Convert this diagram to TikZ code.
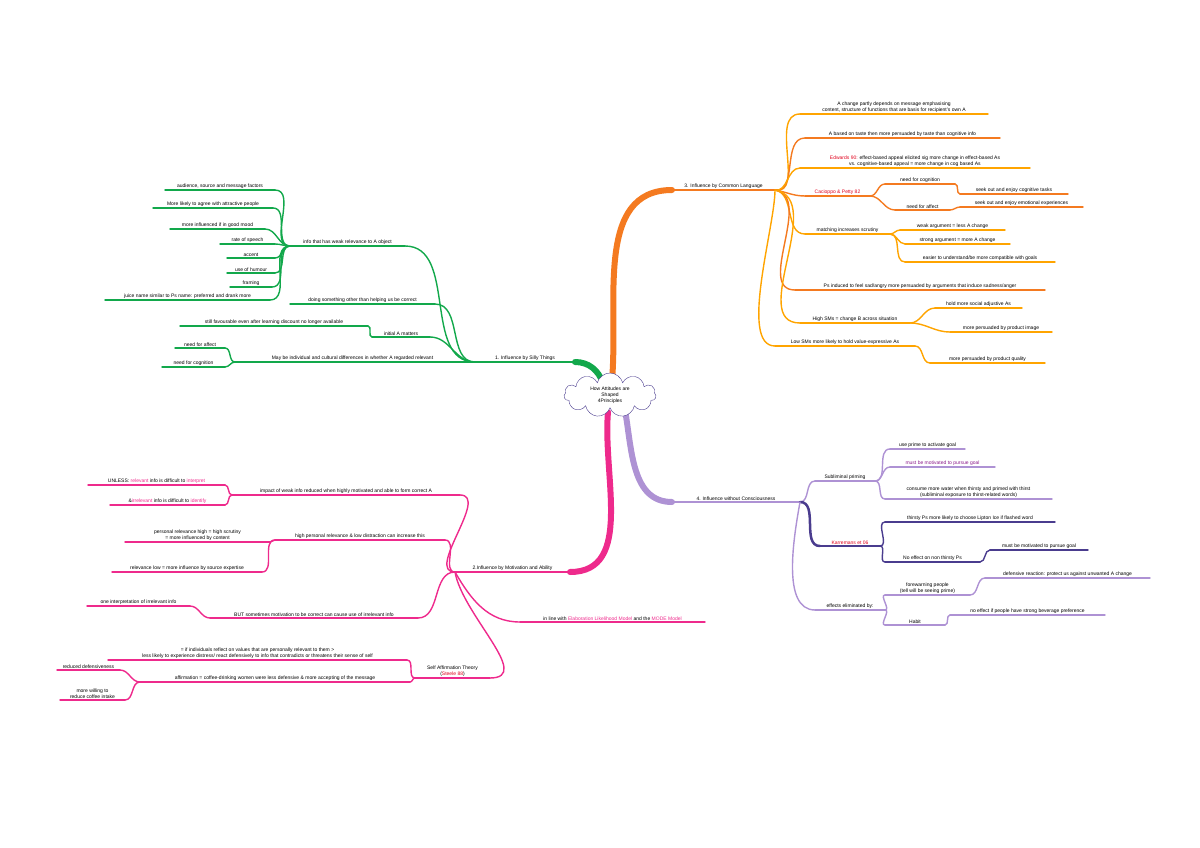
\documentclass[tikz,border=0pt]{standalone}
\usepackage{fontspec}
\setmainfont{Liberation Sans}
\usetikzlibrary{shapes.symbols}
\definecolor{cg}{HTML}{12A84B}
\definecolor{co}{HTML}{FFA400}
\definecolor{cdo}{HTML}{F47A20}
\definecolor{cp}{HTML}{EE2A8C}
\definecolor{cv}{HTML}{AE92D4}
\definecolor{cdv}{HTML}{4A3C8E}
\definecolor{cr}{HTML}{E0001B}
\definecolor{cpt}{HTML}{8B1A8B}
\tikzset{
 lbl/.style={inner sep=1pt,align=center,font=\fontsize{5}{6}\selectfont},
 ln/.style={line width=1.4pt,line cap=round},
 cn/.style={line width=1.4pt,line cap=round},
 trunk/.style={line width=6pt,line cap=round},
}
% name, x1, x2, y, colour, text
\newcommand\nd[6]{%
 \draw[ln,#5] (#2,#4) coordinate (#1L) -- (#3,#4) coordinate (#1R);
 \node[lbl,anchor=south] (#1) at ({(#2+#3)/2},#4) {#6};}
\newcommand\cl[3]{\draw[cn,#1] (#2L) to[out=180,in=0] (#3R);}
\newcommand\cR[3]{\draw[cn,#1] (#2R) to[out=0,in=180] (#3L);}
\newcommand\red[1]{\textcolor{cr}{#1}}
\newcommand\pk[1]{\textcolor{cp}{#1}}
\begin{document}
\begin{tikzpicture}[x=1pt,y=-1pt]
\useasboundingbox (0,0) rectangle (1200,848);
\coordinate (rc) at (610,395);

% ---- branch 1 green
\nd{b1}{475}{575}{362}{cg}{1. Influence by Silly Things}
\draw[trunk,cg] (603,383) to[out=110,in=0] (b1R);
\nd{g1}{290}{405}{246}{cg}{info that has weak relevance to A object}
\nd{g11}{165}{275}{190}{cg}{audience, source and message factors}
\nd{g12}{153}{273}{208}{cg}{More likely to agree with attractive people}
\nd{g13}{170}{265}{229}{cg}{more influenced if in good mood}
\nd{g14}{220}{275}{244}{cg}{rate of speech}
\nd{g15}{227}{275}{258}{cg}{accent}
\nd{g16}{227}{275}{273}{cg}{use of humour}
\nd{g17}{230}{272}{287}{cg}{framing}
\nd{g18}{105}{270}{300}{cg}{juice name similar to Ps name: preferred and drank more}
\foreach \c in {g11,g12,g13,g14,g15,g16,g17,g18}{\cl{cg}{g1}{\c}}
\nd{g2}{290}{435}{304}{cg}{doing something other than helping us be correct}
\nd{g3}{372}{430}{337}{cg}{initial A matters}
\nd{g31}{180}{368}{326}{cg}{still favourable even after learning discount no longer available}
\cl{cg}{g3}{g31}
\nd{g4}{235}{470}{362}{cg}{May be individual and cultural differences in whether A regarded relevant}
\nd{g41}{175}{225}{348}{cg}{need for affect}
\nd{g42}{162}{225}{367}{cg}{need for cognition}
\cl{cg}{g4}{g41}\cl{cg}{g4}{g42}
\foreach \c in {g1,g2,g3,g4}{\cl{cg}{b1}{\c}}

% ---- branch 3 orange
\nd{b3}{672}{775}{190}{cdo}{3. Influence by Common Language}
\draw[trunk,cdo] (612,380) to[out=85,in=180] (b3L);
\nd{o1}{800}{988}{114}{co}{A change partly depends on message emphasising\\content, structure of functions that are basis for recipient's own A}
\nd{o2}{805}{1000}{138}{cdo}{A based on taste then more persuaded by taste than cognitive info}
\nd{o3}{800}{1030}{168}{co}{\red{Edwards 90:} effect-based appeal elicited sig more change in effect-based As\\vs. cognitive-based appeal = more change in cog based As}
\nd{o4}{805}{870}{196}{cdo}{\red{Cacioppo \& Petty 82}}
\nd{o41}{885}{955}{184}{cdo}{need for cognition}
\nd{o42}{895}{950}{210}{cdo}{need for affect}
\nd{o411}{960}{1068}{194}{cdo}{seek out and enjoy cognitive tasks}
\nd{o421}{960}{1083}{207}{cdo}{seek out and enjoy emotional experiences}
\cR{cdo}{o4}{o41}\cR{cdo}{o4}{o42}\cR{cdo}{o41}{o411}\cR{cdo}{o42}{o421}
\nd{o5}{805}{890}{234}{co}{matching increases scrutiny}
\nd{o51}{900}{1005}{230}{co}{weak argument = less A change}
\nd{o52}{905}{1010}{244}{co}{strong argument = more A change}
\nd{o53}{905}{1055}{262}{co}{easier to understand/be more compatible with goals}
\foreach \c in {o51,o52,o53}{\cR{co}{o5}{\c}}
\nd{o6}{795}{1045}{290}{cdo}{Ps induced to feel sad/angry more persuaded by arguments that induce sadness/anger}
\nd{o7}{800}{910}{323}{co}{High SMs = change B across situation}
\nd{o71}{935}{1022}{308}{co}{hold more social adjustive As}
\nd{o72}{950}{1052}{332}{co}{more persuaded by product image}
\cR{co}{o7}{o71}\cR{co}{o7}{o72}
\nd{o8}{775}{915}{346}{co}{Low SMs more likely to hold value-expressive As}
\nd{o81}{930}{1045}{363}{co}{more persuaded by product quality}
\cR{co}{o8}{o81}
\foreach \c/\k in {o1/co,o2/cdo,o3/co,o4/cdo,o5/co,o6/cdo,o7/co}{\draw[cn,\k] (b3R) to[out=-10,in=180] (\c L);}
\draw[cn,co] (b3R) to[out=-90,in=180,looseness=0.6] (o8L);

% ---- branch 4 purple
\nd{b4}{672}{800}{502}{cv}{4. Influence without Consciousness}
\draw[trunk,cv] (625,410) to[out=-80,in=180] (b4L);
\nd{v1}{815}{875}{481}{cv}{Subliminal priming}
\nd{v11}{890}{965}{449}{cv}{use prime to activate goal}
\nd{v12}{890}{995}{467}{cv}{\textcolor{cpt}{must be motivated to pursue goal}}
\nd{v13}{885}{1052}{499}{cv}{consume more water when thirsty and primed with thirst\\(subliminal exposure to thirst-related words)}
\foreach \c in {v11,v12,v13}{\cR{cv}{v1}{\c}}
\nd{v2}{820}{880}{546}{cdv}{\red{Karremans et 06}}
\nd{v21}{885}{1055}{522}{cdv}{thirsty Ps more likely to choose Lipton Ice if flashed word}
\nd{v22}{885}{980}{562}{cdv}{No effect on non thirsty Ps}
\nd{v221}{990}{1088}{550}{cdv}{must be motivated to pursue goal}
\cR{cdv}{v2}{v21}\cR{cdv}{v2}{v22}\cR{cdv}{v22}{v221}
\nd{v3}{815}{885}{610}{cv}{effects eliminated by:}
\nd{v31}{885}{970}{595}{cv}{forewarning people\\(tell will be seeing prime)}
\nd{v311}{985}{1150}{578}{cv}{defensive reaction: protect us against unwanted A change}
\nd{v32}{885}{945}{625}{cv}{Habit}
\nd{v321}{950}{1105}{615}{cv}{no effect if people have strong beverage preference}
\cR{cv}{v3}{v31}\cR{cv}{v3}{v32}\cR{cv}{v31}{v311}\cR{cv}{v32}{v321}
\cR{cv}{b4}{v1}
\draw[cn,cdv,line width=2.5pt] (b4R) to[out=0,in=180] (v2L);
\draw[cn,cv] (b4R) to[out=-100,in=180,looseness=0.8] (v3L);

% ---- branch 2 pink
\nd{b2}{455}{570}{572}{cp}{2.Influence by Motivation and Ability}
\draw[trunk,cp] (608,412) to[out=-95,in=0] (b2R);
\nd{p1}{232}{460}{495}{cp}{impact of weak info reduced when highly motivated and able to form correct A}
\nd{p11}{88}{225}{485}{cp}{UNLESS: \pk{relevant} info is difficult to \pk{interpret}}
\nd{p12}{110}{225}{505}{cp}{\&\pk{irrelevant} info is difficult to \pk{identify}}
\cl{cp}{p1}{p11}\cl{cp}{p1}{p12}
\nd{p2}{275}{445}{540}{cp}{high personal relevance \& low distraction can increase this}
\nd{p21}{125}{270}{542}{cp}{personal relevance high = high scrutiny\\= more influenced by content}
\nd{p22}{112}{262}{572}{cp}{relevance low = more influence by source expertise}
\cl{cp}{p2}{p21}\cl{cp}{p2}{p22}
\nd{p3}{210}{418}{618}{cp}{BUT sometimes motivation to be correct can cause use of irrelevant info}
\nd{p31}{87}{190}{606}{cp}{one interpretation of irrelevant info}
\cl{cp}{p3}{p31}
\nd{p4}{520}{705}{622}{cp}{in line with \pk{Elaboration Likelihood Model} and the \pk{MODE Model}}
\nd{p5}{415}{490}{678}{cp}{Self Affirmation Theory\\(\red{Steele 88})}
\nd{p51}{108}{407}{660}{cp}{= if individuals reflect on values that are personally relevant to them >\\less likely to experience distress/ react defensively to info that contradicts or threatens their sense of self}
\nd{p52}{140}{410}{682}{cp}{affirmation = coffee-drinking women were less defensive \& more accepting of the message}
\nd{p521}{57}{120}{670}{cp}{reduced defensiveness}
\nd{p522}{60}{125}{700}{cp}{more willing to\\reduce coffee intake}
\cl{cp}{p5}{p51}\cl{cp}{p5}{p52}\cl{cp}{p52}{p521}\cl{cp}{p52}{p522}
\foreach \c in {p1,p2,p3}{\cl{cp}{b2}{\c}}
\draw[cn,cp] (b2L) to[out=-60,in=180] (p4L);
\draw[cn,cp] (b2L) to[out=-80,in=0] (p5R);

\node[cloud,draw=cdv,fill=white,cloud puffs=11,aspect=2,minimum width=92pt,minimum height=44pt,lbl] (root) at (rc) {How Attitudes are\\Shaped\\4Principles};
\end{tikzpicture}
\end{document}
